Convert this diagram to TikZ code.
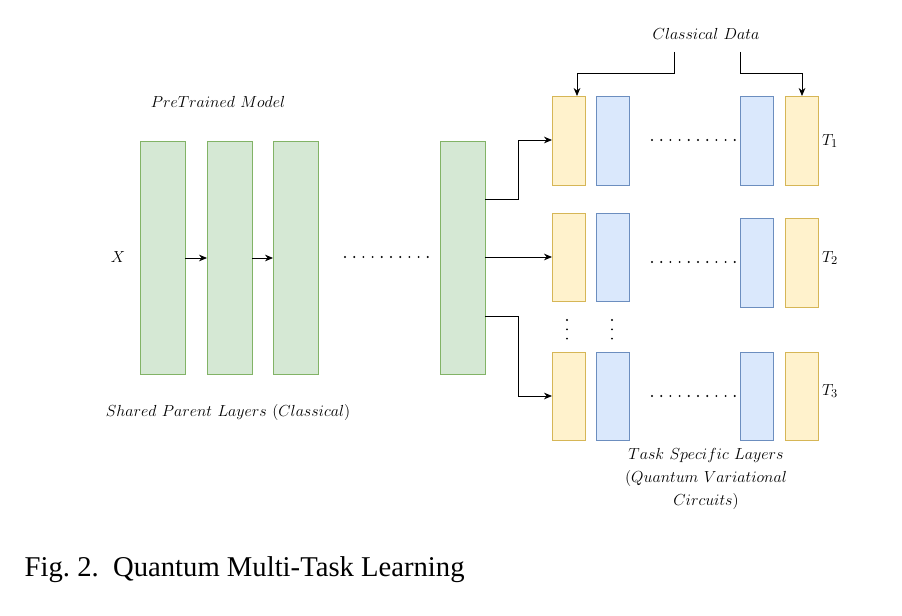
\documentclass[tikz,border=0pt]{standalone}
\usepackage{fontspec}
\newfontfamily\capfont{Liberation Serif}
\usetikzlibrary{arrows.meta}
\definecolor{gf}{HTML}{D5E8D4}\definecolor{gd}{HTML}{82B366}
\definecolor{yf}{HTML}{FFF2CC}\definecolor{yd}{HTML}{D6B656}
\definecolor{bf}{HTML}{DAE8FC}\definecolor{bd}{HTML}{6C8EBF}
\tikzset{
 gbox/.style={draw=gd,fill=gf,line width=0.6pt},
 ybox/.style={draw=yd,fill=yf,line width=0.6pt},
 bbox/.style={draw=bd,fill=bf,line width=0.6pt},
 conn/.style={-{Stealth[length=6pt,width=5pt]},line width=0.6pt},
 lbl/.style={font=\fontsize{12.5}{15}\selectfont},
 hdots/.style={line width=1.6pt,line cap=round,dash pattern=on 0pt off 6.9pt},
}
\begin{document}
\begin{tikzpicture}[x=0.75pt,y=-0.75pt]
\useasboundingbox (0,0) rectangle (902,616);
% green
\foreach \n/\a in {g1/140,g2/207,g3/273,g4/440}{
  \path[gbox] (\a,141) rectangle +(45,233);
  \coordinate (\n) at (\a+22.5,257.5);}
\draw[conn] (185,258) -- (207,258);
\draw[conn] (252,258) -- (273,258);
\draw[hdots] (345,257) -- (428,257);
% rows
\draw[ybox] (552,96) rectangle (585,185);
\draw[bbox] (596,96) rectangle (629,185);
\draw[bbox] (740,96) rectangle (773,185);
\draw[ybox] (785,96) rectangle (818,185);
\draw[ybox] (552,213) rectangle (585,301);
\draw[bbox] (596,213) rectangle (629,301);
\draw[bbox] (740,218) rectangle (773,307);
\draw[ybox] (785,218) rectangle (818,307);
\draw[ybox] (552,352) rectangle (585,440);
\draw[bbox] (596,352) rectangle (629,440);
\draw[bbox] (740,352) rectangle (773,440);
\draw[ybox] (785,352) rectangle (818,440);
\foreach \y in {140,262,396} \draw[hdots] (652,\y) -- (735,\y);
\foreach \x in {567,612} \draw[hdots,dash pattern=on 0pt off 7pt] (\x,320) -- (\x,339);
% connectors
\draw[conn] (485,199) -- (518,199) -- (518,140) -- (552,140);
\draw[conn] (485,257) -- (552,257);
\draw[conn] (485,316) -- (518,316) -- (518,396) -- (552,396);
\node[lbl] (cd) at (706,34) {$Classical\ Data$};
\draw[conn] (674,52) -- (674,73) -- (577,73) -- (577,96);
\draw[conn] (740,52) -- (740,73) -- (802,73) -- (802,96);
% labels
\node[lbl] (t1) at (830,141) {$T_1$};
\node[lbl] (t2) at (830,258) {$T_2$};
\node[lbl] (t3) at (830,391) {$T_3$};
\node[lbl] (x) at (118,257) {$X$};
\node[lbl] (pm) at (218,102) {$PreTrained\ Model$};
\node[lbl] (sp) at (228,412) {$Shared\ Parent\ Layers\ (Classical)$};
\node[lbl,align=center] (ts) at (706,479) {$Task\ Specific\ Layers$\\[2pt]$(Quantum\ Variational$\\[2pt]$Circuits)$};
\node[anchor=west,font=\capfont\fontsize{21.5}{25}\selectfont] (cap) at (20,570) {Fig.\ 2.\ \ Quantum Multi-Task Learning};
\end{tikzpicture}
\end{document}
